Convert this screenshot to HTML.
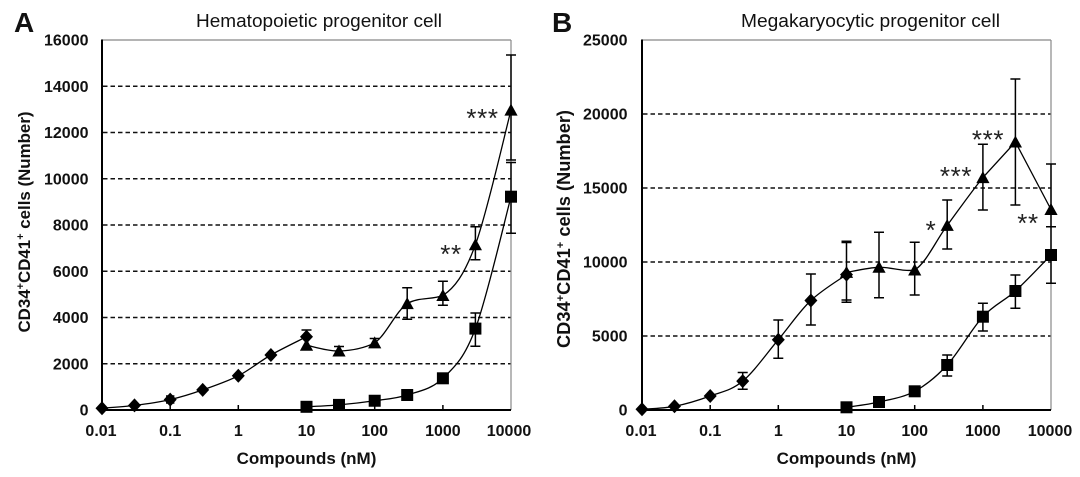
<!DOCTYPE html>
<html><head><meta charset="utf-8"><style>
html,body{margin:0;padding:0;background:#fff;}
svg{display:block;}
text{font-family:"Liberation Sans",Arial,sans-serif;fill:#111;}
.tk{font-size:16px;font-weight:bold;}
.ax{font-size:17px;font-weight:bold;}
.st{font-size:26px;letter-spacing:0.6px;fill:#222;}
</style></head><body>
<svg width="1080" height="477" viewBox="0 0 1080 477" xmlns="http://www.w3.org/2000/svg">
<defs>
<path id="dm" d="M0,-7 L6.5,0 L0,7 L-6.5,0Z" fill="#000"/>
<rect id="sq" x="-6" y="-6" width="12" height="12" fill="#000"/>
<path id="tr" d="M0,-6.5 L6.6,5.5 L-6.6,5.5Z" fill="#000"/>
</defs>

<!-- ===== Panel A ===== -->
<text x="14" y="32" style="font-size:28px;font-weight:bold">A</text>
<text x="196" y="27" style="font-size:18px" textLength="246" lengthAdjust="spacingAndGlyphs">Hematopoietic progenitor cell</text>

<g stroke="#111" stroke-width="1.5" stroke-dasharray="4.5 3">
<line x1="103" y1="86.25" x2="511" y2="86.25"/>
<line x1="103" y1="132.5" x2="511" y2="132.5"/>
<line x1="103" y1="178.75" x2="511" y2="178.75"/>
<line x1="103" y1="225" x2="511" y2="225"/>
<line x1="103" y1="271.25" x2="511" y2="271.25"/>
<line x1="103" y1="317.5" x2="511" y2="317.5"/>
<line x1="103" y1="363.75" x2="511" y2="363.75"/>
</g>
<line x1="102" y1="40" x2="511" y2="40" stroke="#888" stroke-width="1.2"/>
<line x1="511" y1="40" x2="511" y2="410" stroke="#888" stroke-width="1.2"/>
<line x1="102" y1="39.5" x2="102" y2="411" stroke="#000" stroke-width="2"/>
<line x1="101" y1="410" x2="511" y2="410" stroke="#000" stroke-width="2"/>
<g stroke="#000" stroke-width="1.5">
<line x1="170.2" y1="410" x2="170.2" y2="405"/><line x1="238.3" y1="410" x2="238.3" y2="405"/>
<line x1="306.5" y1="410" x2="306.5" y2="405"/><line x1="374.7" y1="410" x2="374.7" y2="405"/>
<line x1="442.9" y1="410" x2="442.9" y2="405"/>
</g>

<g class="tk" text-anchor="end">
<text x="88.5" y="45.7">16000</text>
<text x="88.5" y="91.9">14000</text>
<text x="88.5" y="138.2">12000</text>
<text x="88.5" y="184.4">10000</text>
<text x="88.5" y="230.7">8000</text>
<text x="88.5" y="276.9">6000</text>
<text x="88.5" y="323.2">4000</text>
<text x="88.5" y="369.4">2000</text>
<text x="88.5" y="415.7">0</text>
</g>
<g class="tk" text-anchor="middle">
<text x="101" y="436">0.01</text>
<text x="170.2" y="436">0.1</text>
<text x="238.3" y="436">1</text>
<text x="306.5" y="436">10</text>
<text x="374.7" y="436">100</text>
<text x="442.9" y="436">1000</text>
<text x="509" y="436">10000</text>
</g>
<text class="ax" x="306.5" y="464" text-anchor="middle">Compounds (nM)</text>
<text class="ax" transform="translate(30,222) rotate(-90)" text-anchor="middle" textLength="221" lengthAdjust="spacingAndGlyphs">CD34<tspan dy="-6" font-size="11">+</tspan><tspan dy="6">CD41</tspan><tspan dy="-6" font-size="11">+</tspan><tspan dy="6"> cells (Number)</tspan></text>

<g fill="none" stroke="#000" stroke-width="1.3">
<path d="M102,408.2 C107.4,407.7 123.1,406.8 134.5,405.4 C145.9,404.0 158.8,402.2 170.2,399.6 C181.6,397.0 191.4,393.9 202.7,389.9 C214.1,385.9 226.9,381.6 238.3,375.8 C249.7,370.0 259.5,361.5 270.9,355.0 C282.3,348.5 300.6,339.8 306.5,336.7"/>
<path d="M306.5,345.2 C311.9,346.2 327.6,351.4 339,351 C350.4,350.6 363.3,348.5 374.7,342.9 C386.1,335.0 395.8,311.5 407.2,303.6 C418.6,297 431.5,300 442.9,295.5 C454.3,288 464.1,275.6 475.4,244.7 C486.8,213.8 505.1,132.5 511,110.1"/>
<path d="M306.5,406.8 C311.9,406.5 327.6,405.9 339,404.9 C350.4,403.9 363.3,402.4 374.7,400.75 C386.1,399.1 395.8,398.7 407.2,395 C418.6,391.3 431.5,389.4 442.9,378.3 C454.3,367.2 464.1,358.9 475.4,328.6 C486.7,298.7 505.1,218.7 511,196.7"/>
</g>
<g fill="none" stroke="#000" stroke-width="1.5">
<path d="M170.2,396 V403 M166,396 H174.4 M166,403 H174.4"/>
<path d="M306.5,330 V343 M301.5,330 H311.5"/>
<path d="M339,346.5 V355.5 M334,346.5 H344 M334,355.5 H344"/>
<path d="M374.7,338.5 V347 M369.7,338.5 H379.7"/>
<path d="M407.2,287.7 V319.3 M402.2,287.7 H412.2 M402.2,319.3 H412.2"/>
<path d="M442.9,281.3 V305.3 M437.9,281.3 H447.9 M437.9,305.3 H447.9"/>
<path d="M475.4,226.7 V259.7 M470.4,226.7 H480.4 M470.4,259.7 H480.4"/>
<path d="M511,55 V160 M506,55 H516 M506,160 H516"/>
<path d="M442.9,373.5 V383 M437.9,373.5 H447.9"/>
<path d="M475.4,313 V346.3 M470.4,313 H480.4 M470.4,346.3 H480.4"/>
<path d="M511,162.5 V233.3 M506,162.5 H516 M506,233.3 H516"/>
</g>
<use href="#dm" x="102" y="408.2"/><use href="#dm" x="134.5" y="405.4"/><use href="#dm" x="170.2" y="399.6"/>
<use href="#dm" x="202.7" y="389.9"/><use href="#dm" x="238.3" y="375.8"/><use href="#dm" x="270.9" y="355"/>
<use href="#dm" x="306.5" y="336.7"/>
<use href="#tr" x="306.5" y="345.2"/><use href="#tr" x="339" y="351"/><use href="#tr" x="374.7" y="342.9"/>
<use href="#tr" x="407.2" y="303.6"/><use href="#tr" x="442.9" y="295.5"/><use href="#tr" x="475.4" y="244.7"/>
<use href="#tr" x="511" y="110.1"/>
<use href="#sq" x="306.5" y="406.8"/><use href="#sq" x="339" y="404.9"/><use href="#sq" x="374.7" y="400.75"/>
<use href="#sq" x="407.2" y="395"/><use href="#sq" x="442.9" y="378.3"/><use href="#sq" x="475.4" y="328.6"/>
<use href="#sq" x="511" y="196.7"/>
<text class="st" x="482.5" y="126.9" text-anchor="middle">***</text>
<text class="st" x="451" y="263.2" text-anchor="middle">**</text>

<!-- ===== Panel B ===== -->
<text x="552" y="32" style="font-size:28px;font-weight:bold">B</text>
<text x="741" y="27" style="font-size:18px" textLength="259" lengthAdjust="spacingAndGlyphs">Megakaryocytic progenitor cell</text>

<g stroke="#111" stroke-width="1.5" stroke-dasharray="4.5 3">
<line x1="643" y1="114" x2="1051" y2="114"/>
<line x1="643" y1="188" x2="1051" y2="188"/>
<line x1="643" y1="262" x2="1051" y2="262"/>
<line x1="643" y1="336" x2="1051" y2="336"/>
</g>
<line x1="642" y1="40" x2="1051" y2="40" stroke="#888" stroke-width="1.2"/>
<line x1="1051" y1="40" x2="1051" y2="410" stroke="#888" stroke-width="1.2"/>
<line x1="642" y1="39.5" x2="642" y2="411" stroke="#000" stroke-width="2"/>
<line x1="641" y1="410" x2="1051" y2="410" stroke="#000" stroke-width="2"/>
<g stroke="#000" stroke-width="1.5">
<line x1="710.2" y1="410" x2="710.2" y2="405"/><line x1="778.3" y1="410" x2="778.3" y2="405"/>
<line x1="846.5" y1="410" x2="846.5" y2="405"/><line x1="914.7" y1="410" x2="914.7" y2="405"/>
<line x1="982.9" y1="410" x2="982.9" y2="405"/>
</g>

<g class="tk" text-anchor="end">
<text x="627.5" y="45.7">25000</text>
<text x="627.5" y="119.7">20000</text>
<text x="627.5" y="193.7">15000</text>
<text x="627.5" y="267.7">10000</text>
<text x="627.5" y="341.7">5000</text>
<text x="627.5" y="415.7">0</text>
</g>
<g class="tk" text-anchor="middle">
<text x="641" y="436">0.01</text>
<text x="710.2" y="436">0.1</text>
<text x="778.3" y="436">1</text>
<text x="846.5" y="436">10</text>
<text x="914.7" y="436">100</text>
<text x="982.9" y="436">1000</text>
<text x="1050" y="436">10000</text>
</g>
<text class="ax" x="846.5" y="464" text-anchor="middle">Compounds (nM)</text>
<text class="ax" transform="translate(570,229) rotate(-90)" text-anchor="middle" style="font-size:18px" textLength="238" lengthAdjust="spacingAndGlyphs">CD34<tspan dy="-6" font-size="11">+</tspan><tspan dy="6">CD41</tspan><tspan dy="-6" font-size="11">+</tspan><tspan dy="6"> cells (Number)</tspan></text>

<g fill="none" stroke="#000" stroke-width="1.3">
<path d="M642,409.3 C647.4,408.8 663.1,408.5 674.5,406.3 C685.9,404.1 698.8,400.2 710.2,396 C721.6,391.8 731.4,390.5 742.7,381.1 C754.1,371.7 766.9,353.1 778.3,339.7 C789.7,326.3 799.5,311 810.9,300.5 C822.3,289.7 840.6,278.9 846.5,274.6"/>
<path d="M846.5,272.4 C851.9,271.6 867.6,267.7 879,267.3 C890.4,266.9 903.3,272 914.7,270 C926.1,263 935.8,240.8 947.2,225.4 C958.6,210 971.5,191.5 982.9,177.6 L1015.4,142 L1051,209.5"/>
<path d="M846.5,407.3 C851.9,406.4 867.6,404.7 879,402 C890.4,399.3 903.3,397.5 914.7,391.3 C926.1,385.1 935.8,377.4 947.2,365 C958.6,352.6 971.5,329 982.9,316.7 C994.3,304.4 1004,301.3 1015.4,291 C1026.8,280.6 1045.1,261 1051,255"/>
</g>
<g fill="none" stroke="#000" stroke-width="1.5">
<path d="M742.7,372.5 V389.3 M737.7,372.5 H747.7 M737.7,389.3 H747.7"/>
<path d="M778.3,320 V358.3 M773.3,320 H783.3 M773.3,358.3 H783.3"/>
<path d="M810.9,274 V325 M805.9,274 H815.9 M805.9,325 H815.9"/>
<path d="M846.5,241.3 V302.3 M841.5,241.3 H851.5 M841.5,302.3 H851.5 M841.5,242.5 H851.5 M841.5,300 H851.5"/>
<path d="M879,232.3 V297.7 M874,232.3 H884 M874,297.7 H884"/>
<path d="M914.7,242.3 V295 M909.7,242.3 H919.7 M909.7,295 H919.7"/>
<path d="M947.2,200 V249 M942.2,200 H952.2 M942.2,249 H952.2"/>
<path d="M982.9,144.3 V210 M977.9,144.3 H987.9 M977.9,210 H987.9"/>
<path d="M1015.4,79 V205 M1010.4,79 H1020.4 M1010.4,205 H1020.4"/>
<path d="M1051,164 V226.7 M1046,164 H1056 M1046,226.7 H1056"/>
<path d="M947.2,355 V376 M942.2,355 H952.2 M942.2,376 H952.2"/>
<path d="M982.9,303.3 V331 M977.9,303.3 H987.9 M977.9,331 H987.9"/>
<path d="M1015.4,275 V308.3 M1010.4,275 H1020.4 M1010.4,308.3 H1020.4"/>
<path d="M1051,226.7 V283.3 M1046,283.3 H1056"/>
</g>
<use href="#dm" x="642" y="409.3"/><use href="#dm" x="674.5" y="406.3"/><use href="#dm" x="710.2" y="396"/>
<use href="#dm" x="742.7" y="381.1"/><use href="#dm" x="778.3" y="339.7"/><use href="#dm" x="810.9" y="300.5"/>
<use href="#dm" x="846.5" y="274.6"/>
<use href="#tr" x="846.5" y="272.4"/><use href="#tr" x="879" y="267.3"/><use href="#tr" x="914.7" y="270"/>
<use href="#tr" x="947.2" y="225.4"/><use href="#tr" x="982.9" y="177.6"/><use href="#tr" x="1015.4" y="142"/>
<use href="#tr" x="1051" y="209.5"/>
<use href="#sq" x="846.5" y="407.3"/><use href="#sq" x="879" y="402"/><use href="#sq" x="914.7" y="391.3"/>
<use href="#sq" x="947.2" y="365"/><use href="#sq" x="982.9" y="316.7"/><use href="#sq" x="1015.4" y="291"/>
<use href="#sq" x="1051" y="255"/>
<text class="st" x="931" y="239.2" text-anchor="middle">*</text>
<text class="st" x="956" y="185.2" text-anchor="middle">***</text>
<text class="st" x="988" y="148.5" text-anchor="middle">***</text>
<text class="st" x="1028" y="231.9" text-anchor="middle">**</text>
</svg>
</body></html>
